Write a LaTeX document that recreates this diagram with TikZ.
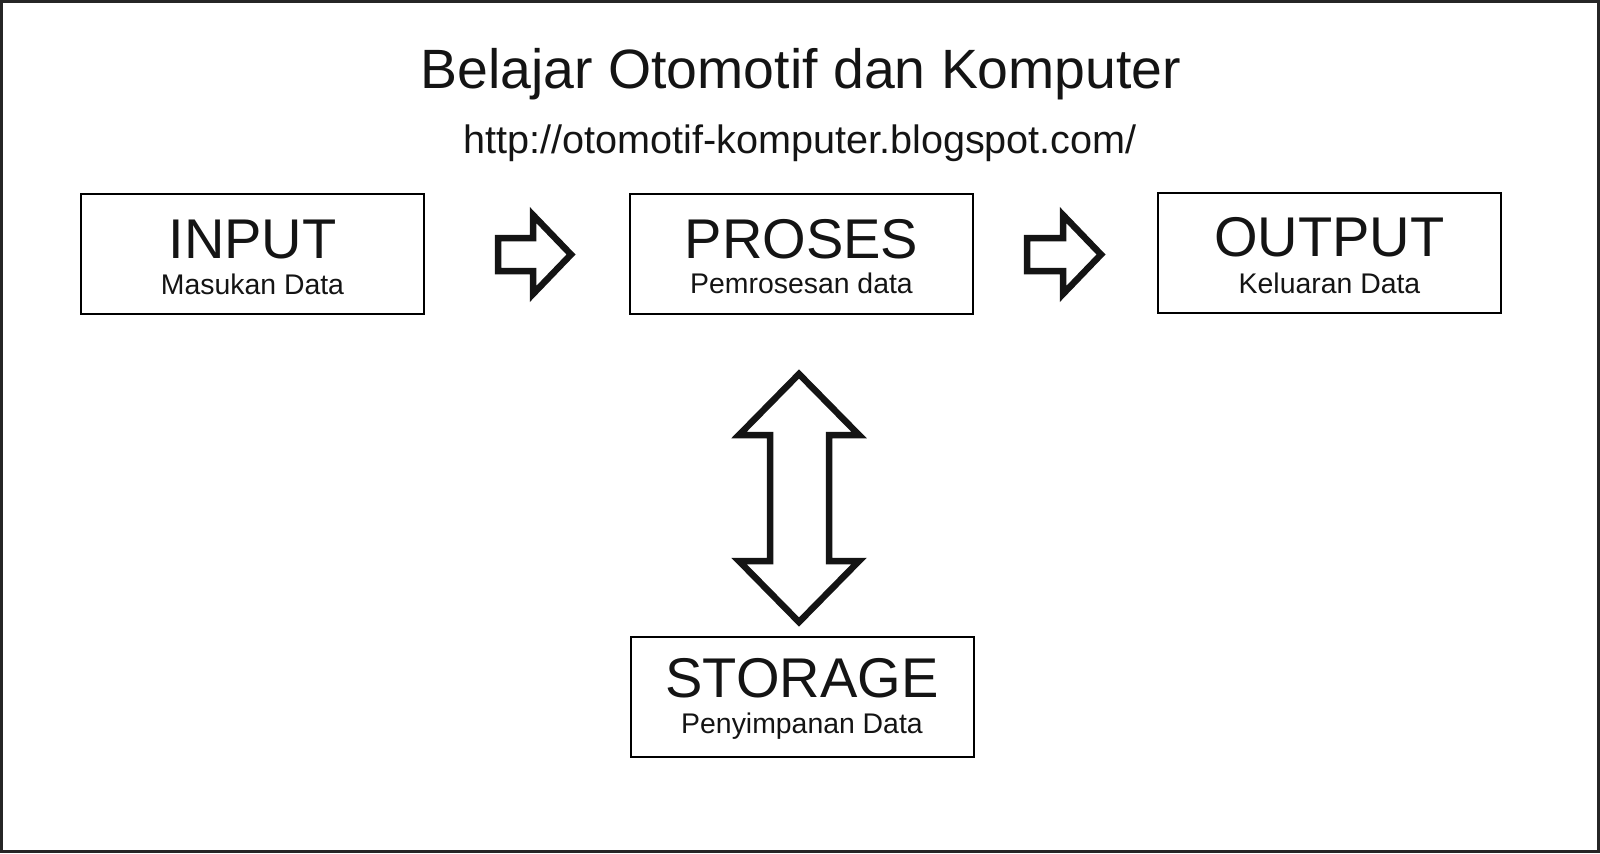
\documentclass[tikz,border=0pt]{standalone}
\usepackage{fontspec}
\setmainfont{Liberation Sans}
\usetikzlibrary{calc}
\tikzset{
  box/.style={draw=black, line width=1pt, rectangle, minimum width=171.5pt, minimum height=60pt, inner sep=0pt},
  bigtxt/.style={inner sep=0pt, anchor=base, font=\fontsize{28}{30}\selectfont, text=black!92},
  smalltxt/.style={inner sep=0pt, anchor=base, font=\fontsize{14.2}{16}\selectfont, text=black!92},
  blockarrow/.style={draw=black!92, fill=white, line width=3.25pt, line join=miter, miter limit=10},
  frame/.style={draw=black!85, line width=1.5pt}
}
\begin{document}
\begin{tikzpicture}[x=0.5pt, y=-0.5pt]
\useasboundingbox (0,0) rectangle (1600,853);
\draw[frame] (1.5,1.5) rectangle (1598.5,851.5);

% title
\node[inner sep=0pt, anchor=base, font=\fontsize{27.7}{30}\selectfont, text=black!92] (title) at (801,88) {Belajar Otomotif dan Komputer};
\node[inner sep=0pt, anchor=base, font=\fontsize{19.8}{22}\selectfont, text=black!92] (url) at (800,153) {http://otomotif-komputer.blogspot.com/};

% boxes
\node[box] (input) at (252.5,254) {};
\node[box] (proses) at (801.5,254) {};
\node[box] (output) at (1329.5,252.5) {};
\node[box] (storage) at (802,696.5) {};

\node[bigtxt] (inputT) at ($(input.north)+(0,65)$) {INPUT};
\node[smalltxt] (inputS) at ($(input.north)+(0,101)$) {Masukan Data};
\node[bigtxt] (prosesT) at ($(proses.north)+(0,65)$) {PROSES};
\node[smalltxt] (prosesS) at ($(proses.north)+(0,100)$) {Pemrosesan data};
\node[bigtxt] (outputT) at ($(output.north)+(0,65)$) {OUTPUT};
\node[smalltxt] (outputS) at ($(output.north)+(0,102)$) {Keluaran Data};
\node[bigtxt] (storageT) at ($(storage.north)+(0,62)$) {STORAGE};
\node[smalltxt] (storageS) at ($(storage.north)+(0,98)$) {Penyimpanan Data};

% block arrows
\draw[blockarrow] (498,238) -- (533,238) -- (533,215) -- (571,254.5) -- (533,294) -- (533,271) -- (498,271) -- cycle;
\draw[blockarrow] (1027,238) -- (1063,238) -- (1063,215) -- (1101,254.5) -- (1063,294) -- (1063,271) -- (1027,271) -- cycle;
\draw[blockarrow] (799,374) -- (859,435) -- (829,435) -- (829,561) -- (859,561) -- (799,622) -- (739,561) -- (770,561) -- (770,435) -- (739,435) -- cycle;
\end{tikzpicture}
\end{document}
